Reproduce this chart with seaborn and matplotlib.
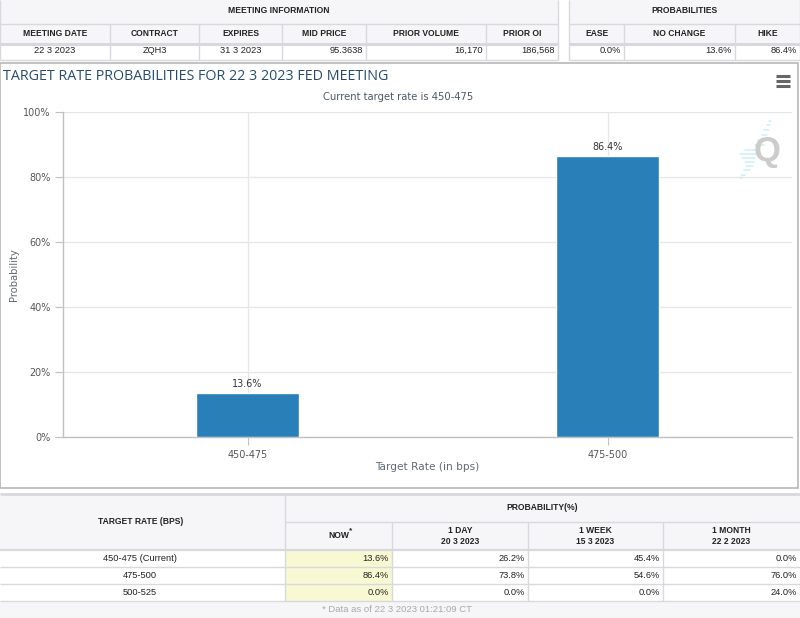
import matplotlib
matplotlib.use("Agg")
import matplotlib.pyplot as plt
from matplotlib.patches import Rectangle
from matplotlib.ticker import PercentFormatter
import pandas as pd
import seaborn as sns

# chart data
rates = ["450-475", "475-500"]
probabilities = [13.6, 86.4]
y_ticks = [0, 20, 40, 60, 80, 100]

# top tables
meeting_headers = ["MEETING DATE", "CONTRACT", "EXPIRES", "MID PRICE", "PRIOR VOLUME", "PRIOR OI"]
meeting_values = ["22 3 2023", "ZQH3", "31 3 2023", "95.3638", "16,170", "186,568"]
prob_headers = ["EASE", "NO CHANGE", "HIKE"]
prob_values = ["0.0%", "13.6%", "86.4%"]

# bottom table
period_headers = ["NOW", "1 DAY\n20 3 2023", "1 WEEK\n15 3 2023", "1 MONTH\n22 2 2023"]
target_rows = ["450-475 (Current)", "475-500", "500-525"]
now_vals = ["13.6%", "86.4%", "0.0%"]
day_vals = ["26.2%", "73.8%", "0.0%"]
week_vals = ["45.4%", "54.6%", "0.0%"]
month_vals = ["0.0%", "76.0%", "24.0%"]

BAR = "#2980b9"
HEAD_BG = "#f6f6f8"
LINE = "#d8d9de"
TXT = "#222222"
W, H = 800, 618

sns.set_theme(style="white")
plt.rcParams["font.family"] = ["DejaVu Sans"]

fig = plt.figure(figsize=(W / 100, H / 100), dpi=100, facecolor="white")

# overlay in pixel coordinates for the tables around the chart
pg = fig.add_axes([0, 0, 1, 1], zorder=0)
pg.set_xlim(0, W)
pg.set_ylim(H, 0)
pg.axis("off")


def box(x0, y0, x1, y1, color):
    pg.add_patch(Rectangle((x0, y0), x1 - x0, y1 - y0, fc=color, ec="none", zorder=1))


def hline(y, x0, x1, color=LINE, lw=1.0):
    pg.plot([x0, x1], [y, y], color=color, lw=lw, zorder=2, solid_capstyle="butt")


def vline(x, y0, y1, color=LINE, lw=1.0):
    pg.plot([x, x], [y0, y1], color=color, lw=lw, zorder=2, solid_capstyle="butt")


def cell(x, y, s, bold=False, ha="center", color=TXT, size=None):
    if size is None:
        size = 6.15 if bold else 6.7
    pg.text(x, y, s, family="Liberation Sans", fontsize=size, ha=ha, va="center",
            fontweight="bold" if bold else "normal", color=color, linespacing=1.35, zorder=3)


# ─── top tables ───────────────────────────────────────────────────────────────
meet_edges = [0, 110, 199, 282, 366, 486, 558]
prob_edges = [569, 624, 735, 800]

for x0, x1, title, heads, vals, edges in [
    (0, 558, "MEETING INFORMATION", meeting_headers, meeting_values, meet_edges),
    (569, 800, "PROBABILITIES", prob_headers, prob_values, prob_edges),
]:
    box(x0, 0, x1, 43, HEAD_BG)
    hline(24, x0, x1)
    hline(43.5, x0, x1, lw=2.2)
    hline(60, x0, x1)
    cell((x0 + x1) / 2, 10.5, title, bold=True)
    for i in range(len(heads)):
        cell((edges[i] + edges[i + 1]) / 2, 33.5, heads[i], bold=True)
        # ids and dates are centred, the numbers sit on the right
        if vals[i] in meeting_values[:3]:
            cell((edges[i] + edges[i + 1]) / 2, 50.5, vals[i])
        else:
            cell(edges[i + 1] - 3, 50.5, vals[i], ha="right")
        if i > 0:
            vline(edges[i], 24, 60)
    vline(x0, 0, 60)
    vline(x1 - 0.5, 0, 60)

# ─── bottom table ─────────────────────────────────────────────────────────────
col_edges = [285, 392, 528, 663, 800]
row_edges = [550, 567, 584, 601]

box(0, 493, 800, 550, HEAD_BG)
box(0, 601, 800, 618, HEAD_BG)
box(285, 550, 392, 601, "#f8f8d2")
hline(493.5, 0, 800, lw=2)
hline(522, 285, 800)
hline(550, 0, 800, lw=1.6)
vline(285, 493, 601)
for r in row_edges[1:]:
    hline(r, 0, 800)
for x in col_edges[1:-1]:
    vline(x, 522, 601)

cell(141, 521, "TARGET RATE (BPS)", bold=True)
cell(542, 508, "PROBABILITY(%)", bold=True)
for i, head in enumerate(period_headers):
    cell((col_edges[i] + col_edges[i + 1]) / 2, 536, head, bold=True)
cell(351, 531, "*", bold=True, size=6)

for j, (name, *vals) in enumerate(zip(target_rows, now_vals, day_vals, week_vals, month_vals)):
    y = (row_edges[j] + row_edges[j + 1]) / 2
    cell(140, y, name)
    for i, v in enumerate(vals):
        cell(col_edges[i + 1] - 3, y, v, ha="right")
cell(397, 609.5, "* Data as of 22 3 2023 01:21:09 CT", color="#a8a8a8", size=6.8)

# ─── chart frame ──────────────────────────────────────────────────────────────
pg.add_patch(Rectangle((0, 62.5), 797.5, 425, fc="white", ec="#b8b8b8", lw=1.2, zorder=1))
pg.text(3, 76, "TARGET RATE PROBABILITIES FOR 22 3 2023 FED MEETING", family="Open Sans",
        fontsize=10.3, color="#274b6d", ha="left", va="center", zorder=3)
pg.text(398, 97, "Current target rate is 450-475", fontsize=7.2, color="#4d5964",
        ha="center", va="center", zorder=3)
for y in [76, 81, 86]:
    hline(y, 776, 790, color="#666666", lw=2.2)

# ─── bar chart ────────────────────────────────────────────────────────────────
ax = fig.add_axes([63 / W, 1 - 437 / H, 729 / W, 325 / H], zorder=1)
ax.patch.set_alpha(0)
df = pd.DataFrame({"rate": rates, "probability": probabilities})
sns.barplot(data=df, x="rate", y="probability", color=BAR, saturation=1, width=0.285, ax=ax, zorder=3)

ax.set_xlim(-0.5125, 1.5125)
ax.set_ylim(0, 100)
ax.set_yticks(y_ticks)
ax.yaxis.set_major_formatter(PercentFormatter(100, decimals=0))
ax.grid(True, color="#e6e6e6", lw=0.9)
ax.set_axisbelow(True)
for side in ["top", "right"]:
    ax.spines[side].set_visible(False)
for side in ["left", "bottom"]:
    ax.spines[side].set_color("#c0c0c0")
    ax.spines[side].set_linewidth(1)
ax.tick_params(axis="both", which="major", length=6, width=0.8, color="#c0c0c0",
               labelsize=6.9, labelcolor="#555555", left=True, bottom=True, pad=3)
ax.set_xlabel("Target Rate (in bps)", fontsize=7.6, color="#5f6b76", labelpad=2)
ax.set_ylabel("Probability", fontsize=7.2, color="#5f6b76", labelpad=3)
for container in ax.containers:
    ax.bar_label(container, fmt="%.1f%%", padding=3, fontsize=6.9, color="#333333", zorder=5)

# watermark
over = fig.add_axes([0, 0, 1, 1], zorder=2)
over.set_xlim(0, W)
over.set_ylim(H, 0)
over.axis("off")
for y, x0, x1 in [(121, 769, 771), (125, 767, 770), (130, 764, 769), (135, 762, 767),
                  (140, 758, 765), (145, 755, 764), (150, 745, 757), (154, 740, 756),
                  (158, 742, 755), (162, 745, 754), (166, 746, 753), (170, 744, 750),
                  (175, 741, 745), (178, 740, 742)]:
    over.plot([x0, x1], [y, y], color="#cdeefa", lw=1.1)
over.text(767, 152, "Q", family="Liberation Sans", fontsize=25, fontweight="bold",
          color="#cccccc", ha="center", va="center")

fig.savefig("out.png", dpi=100)
